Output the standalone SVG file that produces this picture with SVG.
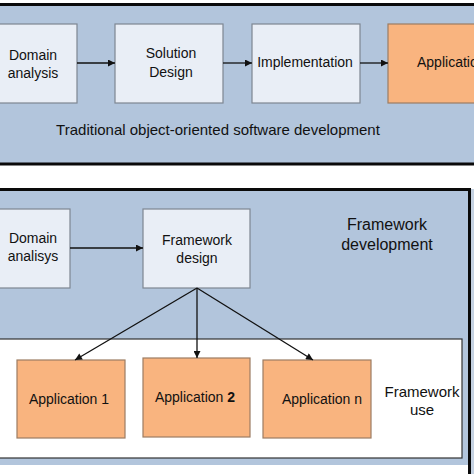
<svg xmlns="http://www.w3.org/2000/svg" width="474" height="474" viewBox="0 0 474 474">
<style>
.panel{fill:#B2C5DC}
.light{fill:#E9EEF6;stroke:#7E8692;stroke-width:1.2}
.app{fill:#F9B47F;stroke:#9C7C63;stroke-width:1.2}
.t{font-family:"Liberation Sans",Arial,sans-serif;font-size:14px;fill:#111;text-anchor:middle}
.lbl{font-family:"Liberation Sans",Arial,sans-serif;font-size:16px;fill:#111;text-anchor:middle}
.c{stroke:#111;stroke-width:1.3;fill:none}
</style>
<defs>
<marker id="ah" viewBox="0 0 10 10" refX="10" refY="5" markerWidth="8" markerHeight="7" markerUnits="userSpaceOnUse" orient="auto">
<path d="M0,0 L10,5 L0,10 Z" fill="#111"/>
</marker>
</defs>
<rect width="474" height="474" fill="#fff"/>
<g id="top-panel">
<rect class="panel" x="0" y="4" width="474" height="160"/>
<line x1="0" y1="4.5" x2="474" y2="4.5" stroke="#0a0a0a" stroke-width="3"/>
<line x1="0" y1="164" x2="474" y2="164" stroke="#0a0a0a" stroke-width="3"/>
<text class="lbl" x="218" y="135" style="font-size:15px">Traditional object-oriented software development</text>
</g>
<g id="bottom-panel">
<rect class="panel" x="0" y="189" width="470" height="276"/>
<rect x="471" y="189" width="3" height="285" fill="#C5D2E2"/>
<line x1="0" y1="189.5" x2="471" y2="189.5" stroke="#0a0a0a" stroke-width="3"/>
<line x1="469.5" y1="188" x2="469.5" y2="474" stroke="#0a0a0a" stroke-width="3"/>
<text class="lbl" x="387" y="230">Framework</text>
<text class="lbl" x="387" y="250">development</text>
</g>
<g id="use-panel">
<rect x="-2" y="339" width="464" height="119" fill="#fff" stroke="#333" stroke-width="1.2"/>
<text class="lbl" x="422" y="397" style="font-size:15px">Framework</text>
<text class="lbl" x="422" y="415" style="font-size:15px">use</text>
</g>
<g id="domain-analysis">
<rect class="light" x="-2" y="24" width="79" height="79"/>
<text class="t" x="33" y="60">Domain</text>
<text class="t" x="33" y="78">analysis</text>
</g>
<g id="solution-design">
<rect class="light" x="115" y="24" width="108" height="79"/>
<text class="t" x="171" y="58">Solution</text>
<text class="t" x="171" y="77">Design</text>
</g>
<g id="implementation">
<rect class="light" x="252" y="24" width="108" height="79"/>
<text class="t" x="305" y="67">Implementation</text>
</g>
<g id="application">
<rect class="app" x="388" y="24" width="100" height="79"/>
<text class="t" x="417" y="67" style="text-anchor:start">Application</text>
</g>
<g id="domain-analisys">
<rect class="light" x="-2" y="209" width="72" height="79"/>
<text class="t" x="33" y="243">Domain</text>
<text class="t" x="33" y="261">analisys</text>
</g>
<g id="framework-design">
<rect class="light" x="143" y="209" width="107" height="79"/>
<text class="t" x="197" y="245">Framework</text>
<text class="t" x="197" y="263">design</text>
</g>
<g id="application-1">
<rect class="app" x="17" y="360" width="108" height="78"/>
<text class="t" x="69" y="404">Application 1</text>
</g>
<g id="application-2">
<rect class="app" x="143" y="358" width="107" height="79"/>
<text class="t" x="195" y="402">Application <tspan font-weight="bold">2</tspan></text>
</g>
<g id="application-n">
<rect class="app" x="263" y="360" width="108" height="78"/>
<text class="t" x="322" y="404">Application n</text>
</g>
<g id="connectors">
<line class="c" x1="77" y1="63" x2="115" y2="63" marker-end="url(#ah)"/>
<line class="c" x1="223" y1="63" x2="252" y2="63" marker-end="url(#ah)"/>
<line class="c" x1="360" y1="63" x2="388" y2="63" marker-end="url(#ah)"/>
<line class="c" x1="70" y1="248" x2="143" y2="248" marker-end="url(#ah)"/>
<line class="c" x1="197" y1="288" x2="75" y2="360" marker-end="url(#ah)"/>
<line class="c" x1="197" y1="288" x2="197" y2="358" marker-end="url(#ah)"/>
<line class="c" x1="197" y1="288" x2="313" y2="360" marker-end="url(#ah)"/>
</g>
</svg>
